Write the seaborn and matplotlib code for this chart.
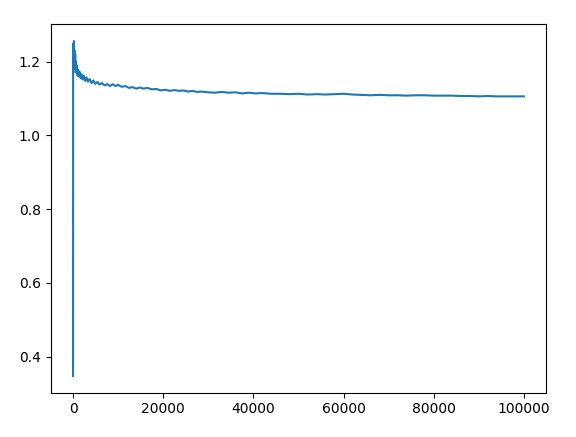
import matplotlib
matplotlib.use("Agg")
import matplotlib.pyplot as plt
import seaborn as sns
import pandas as pd

# running value sampled off the reference curve
steps = [0, 20, 40, 60, 90, 120, 160, 200, 260, 330, 400, 480, 560, 650, 750,
         850, 1000, 1150, 1300, 1500, 1700, 1900, 2100, 2400, 2700, 3000, 3300,
         3700, 4100, 4500, 4900, 5400, 5900, 6400, 7000, 7600, 8200, 8800, 9400,
         10000, 10800, 11600, 12400, 13200, 14000, 14800, 15600, 16500, 17500,
         18500, 19500, 20500, 21500, 22500, 23500, 24500, 25500, 26500, 27500,
         28500, 30000, 31500, 33000, 34500, 36000, 37500, 39000, 40500, 42000,
         44000, 46000, 48000, 50000, 52000, 54000, 56000, 58000, 60000, 62000,
         64000, 66000, 68000, 70000, 72000, 74000, 76000, 78000, 80000, 82000,
         84000, 86000, 88000, 90000, 92000, 94000, 96000, 98000, 99999]
values = [0.348, 1.21, 1.17, 1.24, 1.20, 1.25, 1.22, 1.256, 1.21, 1.23, 1.19,
          1.22, 1.18, 1.20, 1.17, 1.19, 1.162, 1.178, 1.16, 1.172, 1.155, 1.166,
          1.152, 1.162, 1.148, 1.157, 1.146, 1.153, 1.142, 1.149, 1.140, 1.145,
          1.138, 1.142, 1.136, 1.139, 1.134, 1.139, 1.134, 1.137, 1.132, 1.134,
          1.129, 1.131, 1.127, 1.130, 1.127, 1.129, 1.125, 1.126, 1.122, 1.124,
          1.121, 1.123, 1.121, 1.122, 1.119, 1.121, 1.118, 1.119, 1.117, 1.116,
          1.118, 1.116, 1.117, 1.114, 1.116, 1.114, 1.115, 1.113, 1.113, 1.112,
          1.113, 1.111, 1.112, 1.111, 1.112, 1.113, 1.111, 1.110, 1.109, 1.110,
          1.109, 1.109, 1.108, 1.109, 1.109, 1.108, 1.108, 1.108, 1.107, 1.107,
          1.106, 1.107, 1.106, 1.106, 1.106, 1.106]

df = pd.DataFrame({"step": steps, "value": values})

fig, ax = plt.subplots(figsize=(5.76, 4.37), dpi=100)
fig.subplots_adjust(left=0.0877, right=0.9485, top=0.9444, bottom=0.1014)
sns.lineplot(x="step", y="value", data=df, ax=ax, color="#1f77b4", linewidth=1.5)
ax.set_xlabel("")
ax.set_ylabel("")
ax.set_yticks([0.4, 0.6, 0.8, 1.0, 1.2])
ax.set_xticks([0, 20000, 40000, 60000, 80000, 100000])
plt.savefig("out.png", dpi=100)
